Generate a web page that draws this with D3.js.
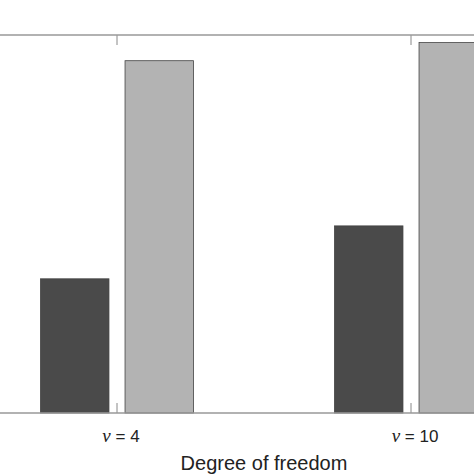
<!DOCTYPE html><html><head><script src="https://cdn.jsdelivr.net/npm/d3@7"></script>
<style>body{margin:0}</style></head><body><svg width="474" height="474"></svg><script>
const categories=["4","10"];
const series=["A","B"];
const valuesA=[0.355,0.495];
const valuesB=[0.932,0.98];
const colors=["#4a4a4a","#b3b3b3"];
const svg=d3.select("svg");
const x=d3.scaleBand().domain(categories).range([-30,558]);
const xs=d3.scaleBand().domain(series).range([-76.5,76.5]).paddingInner(0.19);
const y=d3.scaleLinear().domain([0,1]).range([413,35]);
const data=[valuesA,valuesB];
categories.forEach((c,i)=>{
  const cx=x(c)+x.bandwidth()/2;
  series.forEach((s,j)=>{
    svg.append("rect").attr("x",cx+xs(s)).attr("width",xs.bandwidth())
      .attr("y",y(data[j][i])).attr("height",y(0)-y(data[j][i]))
      .attr("fill",colors[j]).attr("stroke","#444").attr("stroke-width",0.8);
  });
  svg.append("line").attr("x1",cx).attr("x2",cx).attr("y1",35).attr("y2",45).attr("stroke","#888");
  svg.append("line").attr("x1",cx).attr("x2",cx).attr("y1",413).attr("y2",403).attr("stroke","#888");
  const t=svg.append("text").attr("x",cx+4).attr("y",442).attr("text-anchor","middle")
    .attr("font-family","Liberation Sans, Arial").attr("font-size",17).attr("fill","#222");
  t.append("tspan").attr("font-family","Liberation Serif, Times New Roman").attr("font-style","italic").attr("font-size",19).text("ν");
  t.append("tspan").text(" = "+c);
});
svg.append("line").attr("x1",0).attr("x2",474).attr("y1",35).attr("y2",35).attr("stroke","#999").attr("stroke-width",1.5);
svg.append("line").attr("x1",0).attr("x2",474).attr("y1",413).attr("y2",413).attr("stroke","#999").attr("stroke-width",1.5);
svg.append("text").attr("x",264).attr("y",470).attr("text-anchor","middle")
  .attr("font-family","Liberation Sans, Arial").attr("font-size",20).attr("fill","#222").text("Degree of freedom");
</script></body></html>
